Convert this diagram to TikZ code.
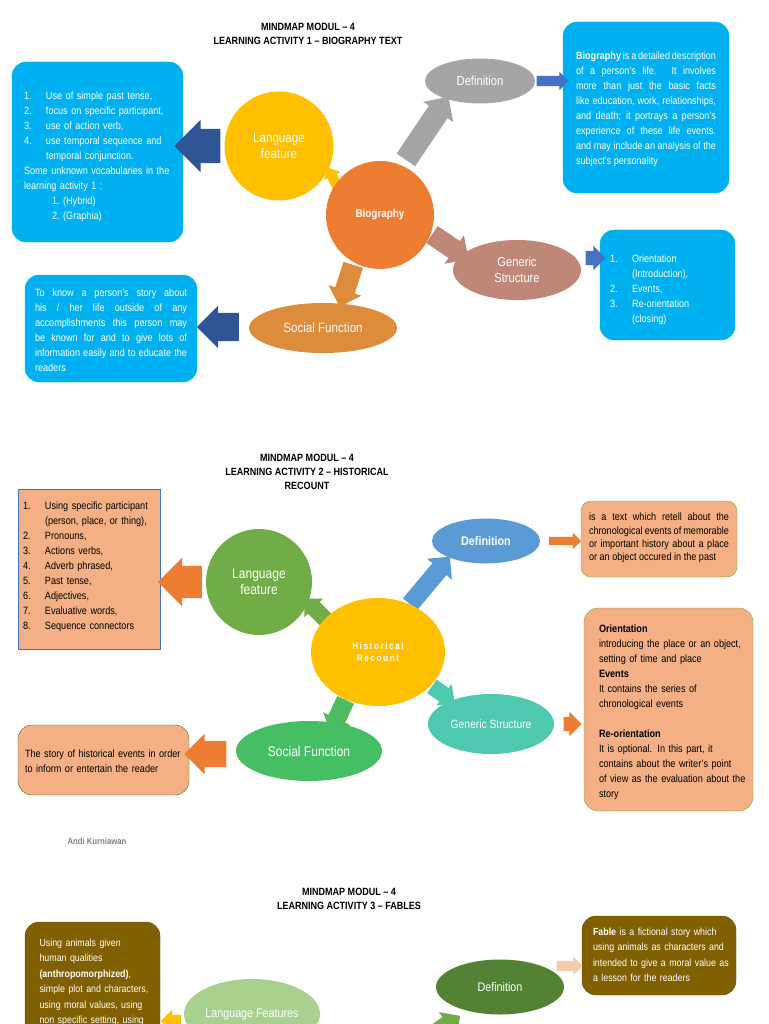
\documentclass[tikz,border=0pt]{standalone}
\usepackage{fontspec}
\setmainfont{Liberation Sans}[FakeStretch=0.86]
\usetikzlibrary{shapes.geometric,shapes.arrows}
\definecolor{cblue}{RGB}{0,176,240}
\definecolor{dblue}{RGB}{47,85,151}
\definecolor{mblue}{RGB}{68,114,196}
\definecolor{gold}{RGB}{255,192,0}
\definecolor{orng}{RGB}{237,125,49}
\definecolor{gry}{RGB}{165,165,165}
\definecolor{brw}{RGB}{190,135,120}
\definecolor{sfo}{RGB}{221,140,60}
\definecolor{salm}{RGB}{244,176,132}
\definecolor{lgr}{RGB}{112,173,71}
\definecolor{skb}{RGB}{91,155,213}
\definecolor{teal2}{RGB}{78,200,175}
\definecolor{sgr}{RGB}{70,190,100}
\definecolor{olive}{RGB}{128,96,0}
\definecolor{pgr}{RGB}{169,208,142}
\definecolor{dgr}{RGB}{84,130,53}
\definecolor{peach}{RGB}{248,203,173}
\newcommand\itm[2]{\par\hangindent=22pt\hangafter=1\noindent\makebox[22pt][l]{#1}#2\par}
\begin{document}
\hyphenpenalty=10000 \exhyphenpenalty=10000
\begin{tikzpicture}[x=1pt,y=-1pt,
  ttl/.style={font=\fontsize{10.5}{14}\selectfont\bfseries, align=center},
  box/.style={rounded corners=14pt, inner sep=0pt},
  txt/.style={font=\fontsize{10.6}{15}\selectfont, align=justify},
  circ/.style={circle, inner sep=0pt, align=center},
  ell/.style={ellipse, inner sep=0pt, align=center},
  barrow/.style n args={4}{single arrow, fill=#1, draw=none, inner xsep=0pt,
     inner ysep=#3, minimum height=#2, single arrow head extend=#4}]
\useasboundingbox (0,0) rectangle (768,1024);
\fill[white] (0,0) rectangle (768,1024);
\clip (0,0) rectangle (768,1024);

% ===== Section 1 =====
\node[ttl] (t1) at (308,34) {MINDMAP MODUL -- 4\\LEARNING ACTIVITY 1 -- BIOGRAPHY TEXT};
\node[box, fill=cblue, draw=cblue!80!green, minimum width=171pt, minimum height=180pt] (b1) at (97.5,152) {};
\node[txt, text=white, text width=148pt, align=left] (b1t) at (98,153) {%
\itm{1.}{Use of simple past tense,}
\itm{2.}{focus on specific participant,}
\itm{3.}{use of action verb,}
\itm{4.}{use temporal sequence and temporal conjunction.}
\noindent Some unknown vocabularies in the learning activity 1 :
\par\hspace*{28pt}1.\ (Hybrid)
\par\hspace*{28pt}2.\ (Graphia)};
\node[box, fill=cblue, draw=cblue!80!green, minimum width=166pt, minimum height=171pt] (b2) at (646,107.5) {};
\node[txt, text=white, text width=140pt] (b2t) at (646,109) {\textbf{Biography} is a detailed description of a person's life. It involves more than just the basic facts like education, work, relationships, and death; it portrays a person's experience of these life events. and may include an analysis of the subject's personality};
\node[box, fill=cblue, draw=cblue!80!green, minimum width=135pt, minimum height=110pt] (b3) at (667.5,285) {};
\node[txt, text=white, text width=108pt, align=left] (b3t) at (664,286) {%
\itm{1.}{Orientation (Introduction),}
\itm{2.}{Events,}
\itm{3.}{Re-orientation (closing)}};
\node[box, fill=cblue, draw=cblue!80!green, minimum width=172pt, minimum height=107pt] (b4) at (111,328.5) {};
\node[txt, text=white, text width=152pt] (b4t) at (111,330) {To know a person's story about his / her life outside of any accomplishments this person may be known for and to give lots of information easily and to educate the readers};

\node[barrow={gold}{22pt}{5pt}{4pt}, rotate=115] (a1y) at (334,180) {};
\node[circ, fill=gold, minimum size=109pt, text=white, font=\fontsize{13.5}{16}\selectfont] (lf1) at (279,146) {Language\\feature};
\node[circ, fill=orng, minimum size=108pt, text=white, font=\fontsize{11.5}{13}\selectfont\bfseries] (bio) at (380,215) {Biography};
\node[barrow={gry}{76pt}{11pt}{7pt}, rotate=56] (a1g) at (424,133) {};
\node[barrow={brw}{44pt}{10pt}{7pt}, rotate=-34] (a1b) at (446,244) {};
\node[barrow={sfo}{44pt}{10pt}{7pt}, rotate=-108] (a1o) at (348,281) {};
\node[ell, fill=gry, minimum width=110pt, minimum height=45pt, text=white, font=\fontsize{13}{15}\selectfont] (def1) at (480,81) {Definition};
\node[ell, fill=brw, minimum width=128pt, minimum height=60pt, text=white, font=\fontsize{13}{16}\selectfont] (gs1) at (517,270) {Generic\\Structure};
\node[ell, fill=sfo, minimum width=148pt, minimum height=50pt, text=white, font=\fontsize{13.5}{15}\selectfont] (sf1) at (323,328) {Social Function};
\node[barrow={dblue}{46pt}{17pt}{9pt}, rotate=180] (a1lf) at (206,146) {};
\node[barrow={dblue}{42pt}{14pt}{7pt}, rotate=180] (a1sf) at (225,327) {};
\node[barrow={mblue}{32pt}{5pt}{4pt}] (a1d) at (550,81) {};
\node[barrow={mblue}{20pt}{7pt}{5pt}] (a1gs) at (592,258) {};

% ===== Section 2 =====
\node[ttl] (t2) at (307,472) {MINDMAP MODUL -- 4\\LEARNING ACTIVITY 2 -- HISTORICAL\\RECOUNT};
\node[fill=salm, draw=mblue, minimum width=142pt, minimum height=160pt, inner sep=0pt] (c1) at (89,569) {};
\node[txt, text width=136pt, align=left, anchor=north] (c1t) at (91,491) {%
\itm{1.}{Using specific participant (person, place, or thing),}
\itm{2.}{Pronouns,}
\itm{3.}{Actions verbs,}
\itm{4.}{Adverb phrased,}
\itm{5.}{Past tense,}
\itm{6.}{Adjectives,}
\itm{7.}{Evaluative words,}
\itm{8.}{Sequence connectors}};
\node[box, rounded corners=10pt, fill=salm, draw=lgr, minimum width=156pt, minimum height=76pt] (c2) at (659,539) {};
\node[txt, font=\fontsize{10.6}{13.2}\selectfont, text width=140pt] (c2t) at (659,538) {is a text which retell about the chronological events of memorable or important history about a place or an object occured in the past};
\node[box, fill=salm, draw=lgr, minimum width=169pt, minimum height=203pt] (c3) at (668.5,709.5) {};
\node[txt, text width=150pt, align=left] (c3t) at (674,712) {%
\textbf{Orientation}\\introducing the place or an object, setting of time and place\\\textbf{Events}\\It contains the series of\\chronological events\\[15pt]\textbf{Re-orientation}\\It is optional. In this part, it contains about the writer's point of view as the evaluation about the story};
\node[box, fill=salm, draw=lgr!60!black, minimum width=171pt, minimum height=70pt] (c4) at (103.5,760) {};
\node[txt, text width=156pt, align=left] (c4t) at (103,761) {The story of historical events in order to inform or entertain the reader};

\node[barrow={lgr}{30pt}{8pt}{5pt}, rotate=135] (a2g) at (318,612) {};
\node[barrow={skb}{62pt}{9pt}{7pt}, rotate=50] (a2b) at (427,584) {};
\node[barrow={teal2}{28pt}{8pt}{5pt}, rotate=-35] (a2t) at (440,692) {};
\node[barrow={sgr!80!lgr}{36pt}{9pt}{6pt}, rotate=-115] (a2s) at (340,712) {};
\node[circ, fill=lgr, minimum size=106pt, text=white, font=\fontsize{14}{16}\selectfont] (lf2) at (259,582) {Language\\feature};
\node[ell, fill=gold, minimum width=134pt, minimum height=108pt, text=white, font=\fontsize{9.5}{12}\selectfont\bfseries] (hr) at (378,652) {H\,i\,s\,t\,o\,r\,i\,c\,a\,l\\R\,e\,c\,o\,u\,n\,t};
\node[ell, fill=skb, minimum width=108pt, minimum height=45pt, text=white, font=\fontsize{12.5}{14}\selectfont\bfseries] (def2) at (486,541) {Definition};
\node[ell, fill=teal2, minimum width=126pt, minimum height=60pt, text=white, font=\fontsize{12}{14}\selectfont] (gs2) at (491,724) {Generic Structure};
\node[ell, fill=sgr, minimum width=146pt, minimum height=60pt, text=white, font=\fontsize{14}{16}\selectfont] (sf2) at (309,751) {Social Function};
\node[barrow={orng}{44pt}{16pt}{8pt}, rotate=180] (a2lf) at (188,582) {};
\node[barrow={orng}{42pt}{13pt}{7pt}, rotate=180] (a2sf) at (212,754) {};
\node[barrow={orng}{32pt}{4pt}{4pt}] (a2d) at (563,541) {};
\node[barrow={orng}{18pt}{7pt}{5pt}] (a2gs) at (569,724) {};
\node[text=gray, font=\fontsize{9}{10}\selectfont\bfseries] (auth) at (97,841) {Andi Kurniawan};

% ===== Section 3 =====
\node[ttl] (t3) at (349,899) {MINDMAP MODUL -- 4\\LEARNING ACTIVITY 3 -- FABLES};
\node[box, fill=olive, draw=olive!80!black, minimum width=135pt, minimum height=140pt] (d1) at (92.5,992) {};
\node[txt, text=white, text width=120pt, align=left, font=\fontsize{10.3}{15.5}\selectfont, anchor=north west] (d1t) at (36,935) {Using animals given\\human qualities\\\textbf{(anthropomorphized)},\\simple plot and characters,\\using moral values, using\\non specific setting, using};
\node[box, fill=olive, draw=olive!80!black, minimum width=154pt, minimum height=79pt] (d2) at (659,955.5) {};
\node[txt, text=white, text width=136pt, align=left, font=\fontsize{10.3}{15.5}\selectfont] (d2t) at (661,955) {\textbf{Fable} is a fictional story which using animals as characters and intended to give a moral value as a lesson for the readers};
\node[barrow={gold}{20pt}{6pt}{5pt}, rotate=180] (a3y) at (174,1021) {};
\node[barrow={lgr}{40pt}{9pt}{6pt}, rotate=35] (a3g) at (440,1030) {};
\node[ell, fill=pgr, minimum width=136pt, minimum height=70pt, text=white, font=\fontsize{12.5}{14}\selectfont] (lf3) at (252,1014) {Language Features};
\node[ell, fill=dgr, minimum width=128pt, minimum height=55pt, text=white, font=\fontsize{12.5}{14}\selectfont] (def3) at (500,987) {Definition};
\node[barrow={peach}{26pt}{5pt}{4pt}] (a3d) at (567,966) {};
\end{tikzpicture}
\end{document}
